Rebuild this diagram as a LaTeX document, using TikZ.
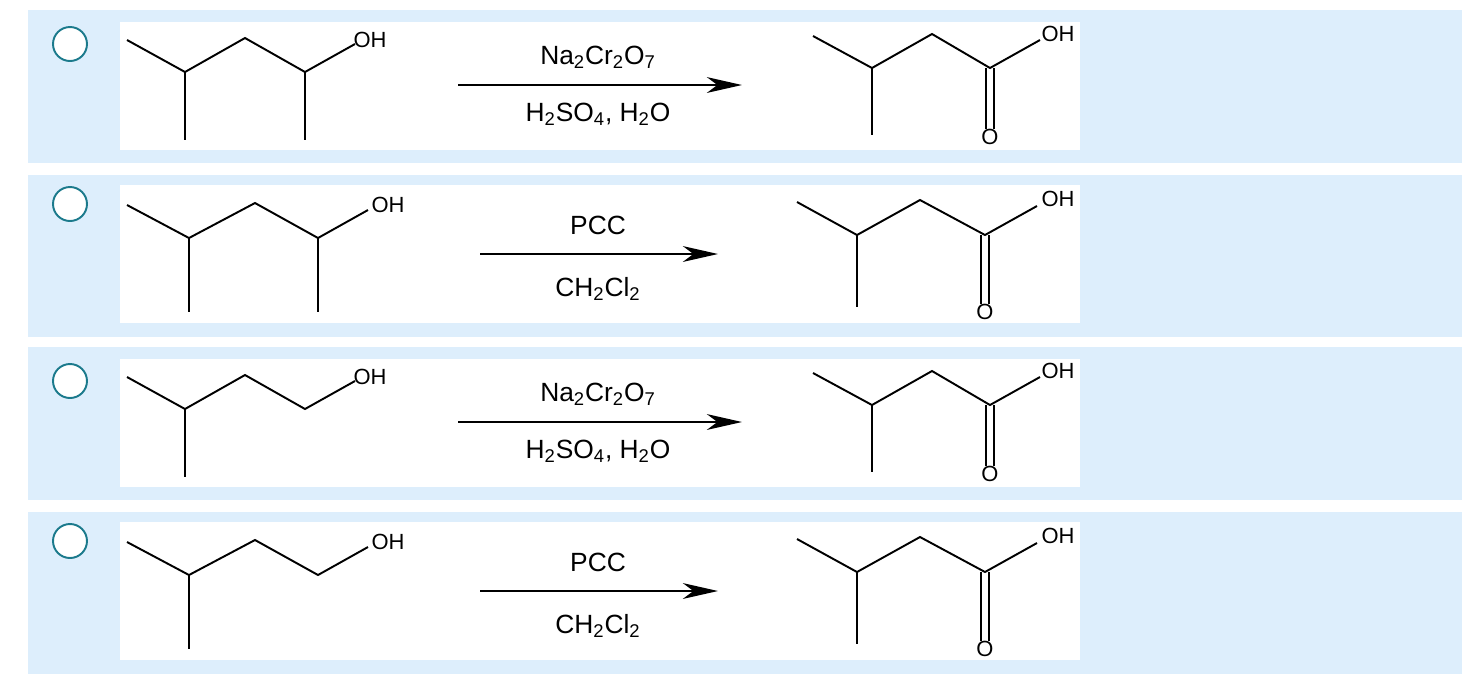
\documentclass[tikz,border=0pt]{standalone}
\usepackage{fontspec}
\setmainfont{Liberation Sans}
\usetikzlibrary{arrows.meta}
\definecolor{band}{HTML}{DDEEFC}
\definecolor{ring}{HTML}{1B7A8C}
\begin{document}
\begin{tikzpicture}[x=0.02cm,y=-0.02cm,
  bond/.style={line width=1.1pt,line join=miter},
  lbl/.style={font=\fontsize{12.5}{14}\selectfont,inner sep=0pt},
  reag/.style={font=\fontsize{15}{17}\selectfont,inner sep=0pt},
  rxn/.style={line width=1.1pt,-{Stealth[length=20pt,width=9pt,inset=6pt]}},
  opt/.style={circle,draw=ring,fill=white,line width=1.1pt,inner sep=0pt,minimum size=0.68cm}]
\useasboundingbox (0,0) rectangle (1484,698);
\fill[white] (0,0) rectangle (1484,698);
\foreach \dy/\sec in {0/1,337/0}{
\begin{scope}[yshift=-\dy*0.02cm]
\fill[band] (28,10) rectangle (1462,163);
\fill[white] (120,22) rectangle (1080,150);
\node[opt] (c) at (70,44) {};
\coordinate (a1) at (127,40); \coordinate (a2) at (185,72); \coordinate (a3) at (245,38);
\coordinate (a4) at (305,72); \coordinate (a5) at (355,44); \coordinate (a6) at (185,140);
\node[lbl] (oh) at (370,40) {OH};
\draw[bond] (a1)--(a2)--(a3)--(a4)--(a5); \draw[bond] (a2)--(a6);
\ifnum\sec=1 \coordinate (a7) at (305,140); \draw[bond] (a4)--(a7); \fi
\coordinate (s) at (458,85); \coordinate (e) at (742,85);
\draw[rxn] (s)--(e);
\node[reag] (r1) at (598,57) {Na\textsubscript{2}Cr\textsubscript{2}O\textsubscript{7}};
\node[reag] (r2) at (598,114) {H\textsubscript{2}SO\textsubscript{4}, H\textsubscript{2}O};
\coordinate (p1) at (813,36); \coordinate (p2) at (872,68); \coordinate (p3) at (932,34);
\coordinate (p4) at (990,68); \coordinate (p5) at (1040,40); \coordinate (p6) at (872,135);
\node[lbl] (poh) at (1058,34) {OH};
\node[lbl] (po) at (990,137) {O};
\draw[bond] (p1)--(p2)--(p3)--(p4)--(p5); \draw[bond] (p2)--(p6);
\draw[bond] ([xshift=-2.5]p4)--([xshift=-2.5]po.north); \draw[bond] ([xshift=2.5]p4)--([xshift=2.5]po.north);
\end{scope}}
\foreach \dy/\sec in {0/1,337/0}{
\begin{scope}[yshift=-\dy*0.02cm]
\fill[band] (28,175) rectangle (1462,337);
\fill[white] (120,185) rectangle (1080,323);
\node[opt] (c) at (70,204) {};
\coordinate (a1) at (127,205); \coordinate (a2) at (189,238); \coordinate (a3) at (255,203);
\coordinate (a4) at (318,238); \coordinate (a5) at (368,210); \coordinate (a6) at (189,312);
\node[lbl] (oh) at (388,205) {OH};
\draw[bond] (a1)--(a2)--(a3)--(a4)--(a5); \draw[bond] (a2)--(a6);
\ifnum\sec=1 \coordinate (a7) at (318,312); \draw[bond] (a4)--(a7); \fi
\coordinate (s) at (480,254); \coordinate (e) at (718,254);
\draw[rxn] (s)--(e);
\node[reag] (r1) at (598,225) {PCC};
\node[reag] (r2) at (598,289) {CH\textsubscript{2}Cl\textsubscript{2}};
\coordinate (p1) at (797,202); \coordinate (p2) at (857,235); \coordinate (p3) at (920,200);
\coordinate (p4) at (985,235); \coordinate (p5) at (1037,206); \coordinate (p6) at (857,307);
\node[lbl] (poh) at (1058,199) {OH};
\node[lbl] (po) at (985,312) {O};
\draw[bond] (p1)--(p2)--(p3)--(p4)--(p5); \draw[bond] (p2)--(p6);
\draw[bond] ([xshift=-2.5]p4)--([xshift=-2.5]po.north); \draw[bond] ([xshift=2.5]p4)--([xshift=2.5]po.north);
\end{scope}}
\end{tikzpicture}
\end{document}
